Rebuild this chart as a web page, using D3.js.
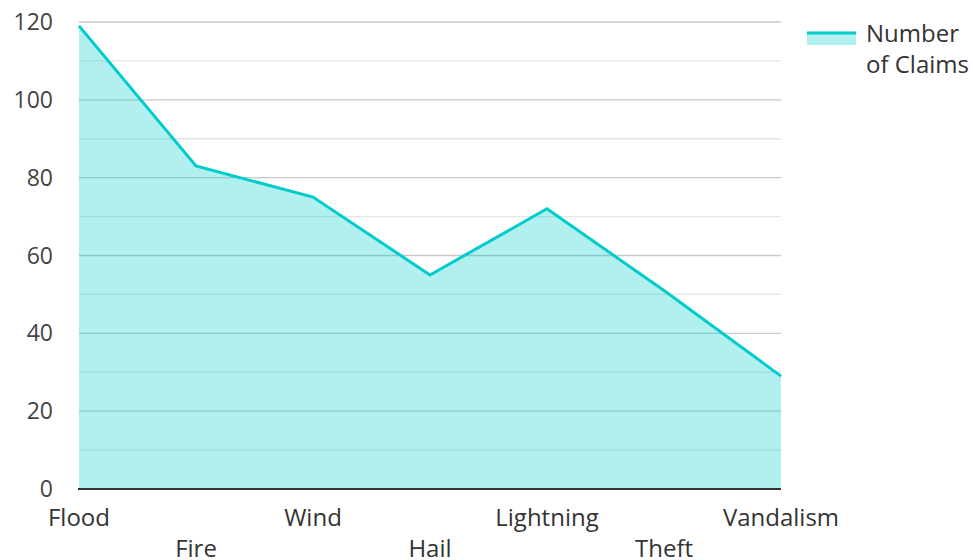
<!DOCTYPE html>
<html>
<head>
<meta charset="utf-8">
<script src="https://cdn.jsdelivr.net/npm/d3@7"></script>
<style>
  body { margin: 0; background: #fff; }
  text { font-family: "Open Sans", "Noto Sans", sans-serif; }
</style>
</head>
<body>
<div id="chart"></div>
<script>
const categories = ["Flood", "Fire", "Wind", "Hail", "Lightning", "Theft", "Vandalism"]
const claims = [119, 83, 75, 55, 72, 51, 29]
const majorTicks = [0, 20, 40, 60, 80, 100, 120]
const minorTicks = [10, 30, 50, 70, 90, 110]
const seriesName = ["Number", "of Claims"]

const width = 973, height = 560
const margin = { top: 22, right: 192, bottom: 71, left: 79 }

const svg = d3.select("#chart").append("svg")
    .attr("width", width)
    .attr("height", height)

const x = d3.scalePoint()
    .domain(categories)
    .range([margin.left, width - margin.right])

const y = d3.scaleLinear()
    .domain([0, 120])
    .range([height - margin.bottom, margin.top])

const data = categories.map((c, i) => ({ cat: c, v: claims[i] }))

// grid
svg.append("g")
    .selectAll("line")
    .data(minorTicks)
    .join("line")
    .attr("x1", margin.left).attr("x2", width - margin.right)
    .attr("y1", d => y(d)).attr("y2", d => y(d))
    .attr("stroke", "#e6e6e6")
    .attr("stroke-width", 1.3)

svg.append("g")
    .selectAll("line")
    .data(majorTicks.slice(1))
    .join("line")
    .attr("x1", margin.left).attr("x2", width - margin.right)
    .attr("y1", d => y(d)).attr("y2", d => y(d))
    .attr("stroke", "#c8c8c8")
    .attr("stroke-width", 1.3)

// area + line
const area = d3.area()
    .x(d => x(d.cat))
    .y0(y(0))
    .y1(d => y(d.v))

const line = d3.line()
    .x(d => x(d.cat))
    .y(d => y(d.v))

svg.append("path")
    .datum(data)
    .attr("d", area)
    .attr("fill", "#00cccc")
    .attr("fill-opacity", 0.3)

svg.append("path")
    .datum(data)
    .attr("d", line)
    .attr("fill", "none")
    .attr("stroke", "#00cccc")
    .attr("stroke-width", 3)

// baseline
svg.append("line")
    .attr("x1", margin.left - 1).attr("x2", width - margin.right)
    .attr("y1", y(0)).attr("y2", y(0))
    .attr("stroke", "#333")
    .attr("stroke-width", 2)

// y labels
svg.append("g")
    .selectAll("text")
    .data(majorTicks)
    .join("text")
    .attr("x", 53)
    .attr("y", d => y(d))
    .attr("dy", "0.35em")
    .attr("text-anchor", "end")
    .attr("fill", "#444")
    .attr("font-size", 23)
    .text(d => d)

// x labels, staggered
svg.append("g")
    .selectAll("text")
    .data(categories)
    .join("text")
    .attr("x", d => x(d))
    .attr("y", (d, i) => i % 2 ? 557 : 526)
    .attr("text-anchor", "middle")
    .attr("fill", "#333")
    .attr("font-size", 24)
    .text(d => d)

// legend
const lg = svg.append("g").attr("transform", "translate(807,33)")
lg.append("rect")
    .attr("x", 0).attr("y", 0)
    .attr("width", 49).attr("height", 12)
    .attr("fill", "#00cccc")
    .attr("fill-opacity", 0.3)
lg.append("line")
    .attr("x1", 0).attr("x2", 49)
    .attr("y1", 0).attr("y2", 0)
    .attr("stroke", "#00cccc")
    .attr("stroke-width", 3)
lg.append("text")
    .attr("fill", "#333")
    .attr("font-size", 24)
    .selectAll("tspan")
    .data(seriesName)
    .join("tspan")
    .attr("x", 59)
    .attr("y", (d, i) => 9 + i * 31)
    .text(d => d)
</script>
</body>
</html>
